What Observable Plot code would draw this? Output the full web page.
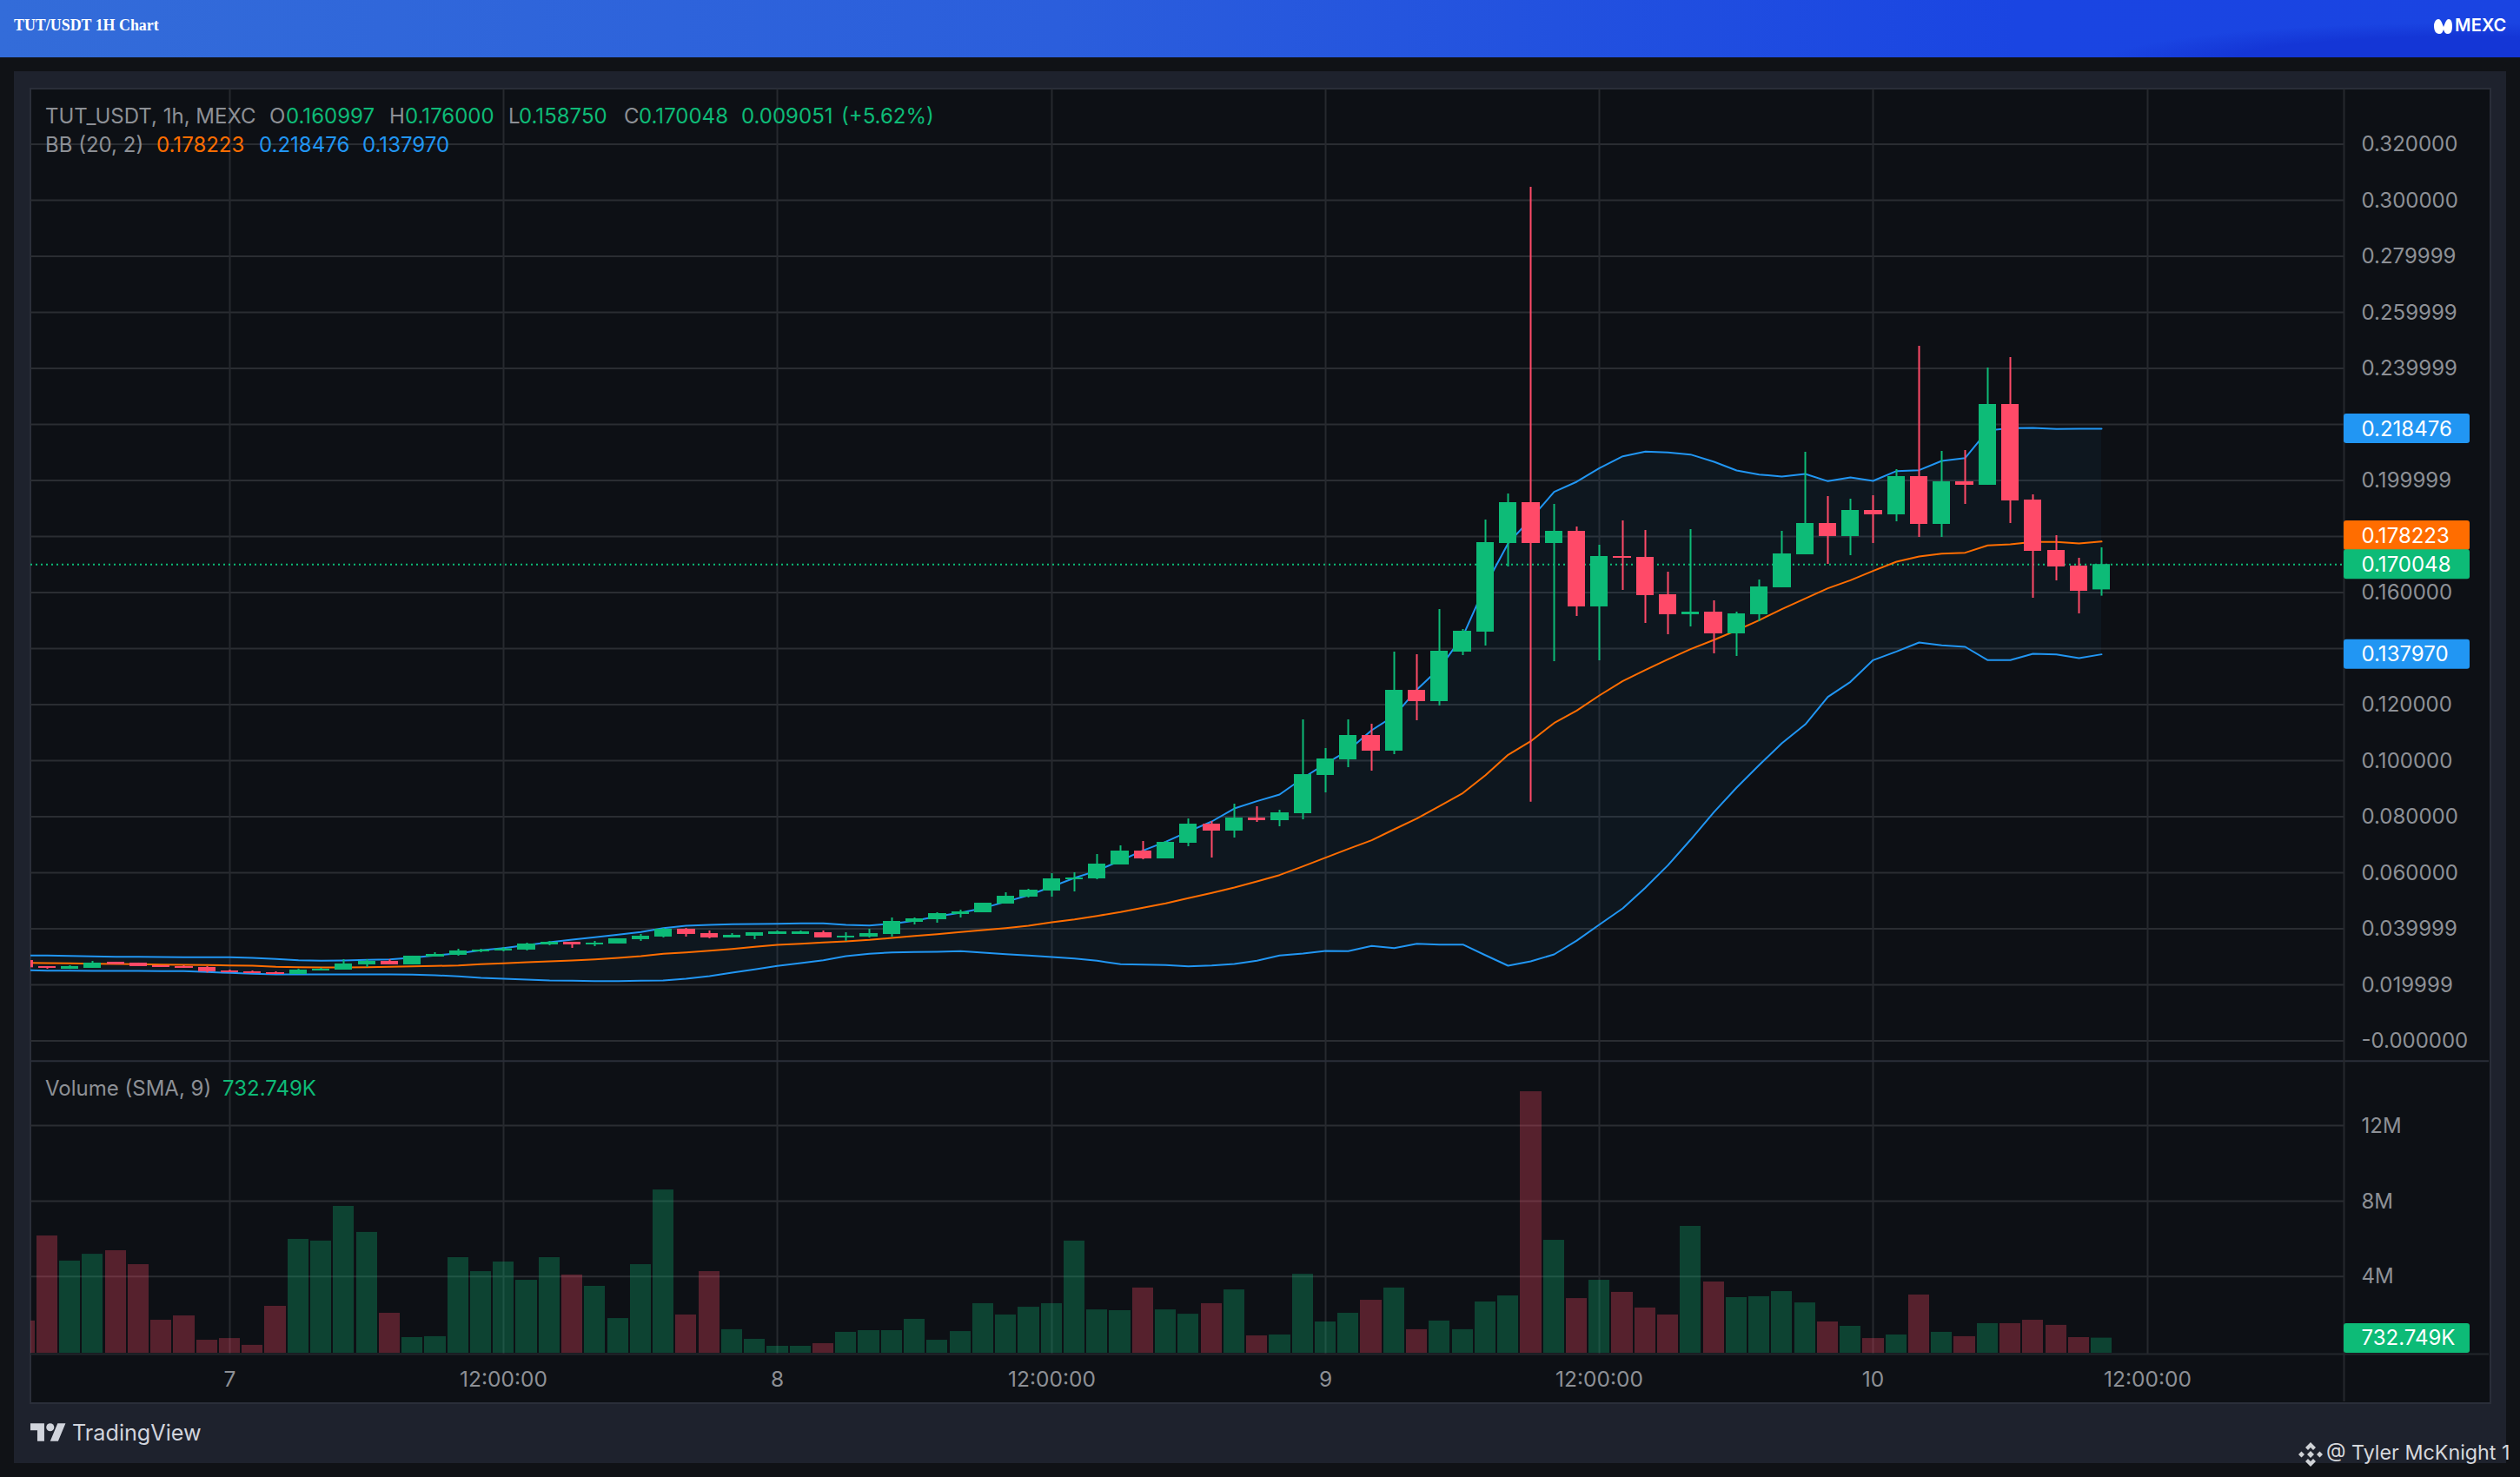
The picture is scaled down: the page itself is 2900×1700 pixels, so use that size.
<!DOCTYPE html>
<html><head><meta charset="utf-8">
<script src="https://cdn.jsdelivr.net/npm/d3@7"></script>
<script src="https://cdn.jsdelivr.net/npm/@observablehq/plot@0.6"></script>
<style>
html,body{margin:0;padding:0;background:#101216;}
#page{position:relative;width:2900px;height:1700px;overflow:hidden;background:#101216;font-family:Inter,sans-serif;}
#header{position:absolute;left:0;top:0;width:2900px;height:66px;background:radial-gradient(ellipse 420px 46px at 2840px 72px,#1436d6 0 65%,transparent 100%),linear-gradient(90deg,#336cd9 0%,#2b5edc 42%,#1a45e2 80%,#1a44e2 100%);}
#title{position:absolute;left:16px;top:19px;font:bold 17.9px "Liberation Serif",serif;color:#fff;}
#mexc{position:absolute;left:2825px;top:17px;font:600 20px Inter,sans-serif;color:#fff;letter-spacing:.2px;}
#panel{position:absolute;left:16px;top:82px;width:2868px;height:1602px;background:#1e222d;}
#frame{position:absolute;left:34px;top:101px;width:2829px;height:1511px;border:2px solid #2a2e39;background:#0d1015;}
.chart{position:absolute;left:35px;}
.t{position:absolute;white-space:pre;font-size:24px;line-height:30px;color:#8d9096;}
.g{color:#0ebb77}.o{color:#ff6d00}.b{color:#2196f3}
</style></head>
<body><div id="page">
<div id="header"><div id="title">TUT/USDT 1H Chart</div>
<svg style="position:absolute;left:2801px;top:22px" width="21" height="17" viewBox="0 0 21 17"><path fill="#fff" d="M5 0c2 0 3 2 4 4l2 5 2-5c1-2 2-4 4-4 3 0 4 4 4 8 0 5-1 9-5 9-3 0-4-2-5-5-1 3-2 5-5 5-4 0-6-4-6-9C0 4 2 0 5 0z"/></svg>
<div id="mexc">MEXC</div></div>
<div id="panel"></div><div id="frame"></div>
<div id="price" class="chart" style="top:102px"></div>
<div id="volume" class="chart" style="top:1220px"></div>
<div class="t" style="left:52px;top:119px">TUT_USDT, 1h, MEXC</div>
<div class="t" style="left:310px;top:119px">O</div><div class="t g" style="left:329px;top:119px">0.160997</div>
<div class="t" style="left:448px;top:119px">H</div><div class="t g" style="left:466px;top:119px">0.176000</div>
<div class="t" style="left:585px;top:119px">L</div><div class="t g" style="left:597px;top:119px">0.158750</div>
<div class="t" style="left:718px;top:119px">C</div><div class="t g" style="left:735px;top:119px">0.170048</div>
<div class="t g" style="left:853px;top:119px">0.009051</div><div class="t g" style="left:968px;top:119px">(+5.62%)</div>
<div class="t" style="left:52px;top:152px">BB (20, 2)</div>
<div class="t o" style="left:180px;top:152px">0.178223</div><div class="t b" style="left:298px;top:152px">0.218476</div><div class="t b" style="left:417px;top:152px">0.137970</div>
<div class="t" style="left:52px;top:1238px">Volume (SMA, 9)</div><div class="t g" style="left:256px;top:1238px">732.749K</div>
<svg style="position:absolute;left:35px;top:1638px" width="41" height="21" viewBox="0 0 36 18"><path fill="#d1d4dc" d="M14 18H7V7H0V0h14v18zM28 18h-8l7.5-18h8L28 18z"/><circle cx="20" cy="4" r="4" fill="#d1d4dc"/></svg>
<div class="t" style="left:83px;top:1634px;font-size:25.2px;color:#d1d4dc">TradingView</div>
<svg style="position:absolute;left:2645px;top:1660px" width="28" height="28" viewBox="0 0 28 28"><path fill="#cfd2d6" d="M14 0L20 6L17 9L14 6L11 9L8 6ZM14 28L20 22L17 19L14 22L11 19L8 22ZM0 14L3.5 10.5L7 14L3.5 17.5ZM21 14L24.5 10.5L28 14L24.5 17.5ZM14 10L18 14L14 18L10 14Z"/></svg>
<div class="t" style="left:2677px;top:1657px;font-size:23.3px;color:#d6d8dc">@ Tyler McKnight 1</div>
</div>
<script>
// Hours relative to 00:00 on the 7th; one candle per hour
const hours = d3.range(-9, 83);
const opens = [.02872,.02655,.02561,.02593,.02810,.02779,.02686,.02655,.02624,.02499,.02469,.02437,.02375,.02499,.02530,.02717,.02841,.02717,.02996,.03058,
.03182,.03213,.03244,.03430,.03523,.03430,.03461,.03616,.03709,.03988,.03833,.03678,.03740,.03802,.03802,.03864,.03678,.03709,.03801,
.04235,.04328,.04514,.04576,.04886,.05135,.05351,.05755,.05786,.06282,.06778,.06499,.07057,.07739,.07491,.07956,.07863,.08111,.09476,.10034,.10902,.10344,.12514,.12111,.13879,.14592,.17755,.19212,
.17755,.18189,.15492,.17290,.17259,.15926,.15213,.15305,.14530,.15213,.16174,.17352,.18468,.18003,.18933,.18778,.20143,.18437,.19957,.19833,.22716,.19305,.17507,.16949,.160997];
const highs = [.02872,.02655,.02686,.02841,.02810,.02779,.02686,.02686,.02655,.02530,.02499,.02469,.02561,.02593,.02903,.02903,.02903,.03027,.03151,.03275,
.03275,.03337,.03492,.03554,.03523,.03554,.03647,.03802,.04019,.04019,.03926,.03833,.03864,.03926,.03926,.03926,.03864,.03988,.04391,
.04390,.04576,.04669,.04917,.05289,.05413,.05972,.06003,.06654,.06964,.07119,.07119,.07925,.07832,.08452,.08359,.08235,.11460,.10437,.11460,.11305,.13879,.13786,.15398,.14685,.18592,.19523,.3047,
.19150,.18344,.17693,.18561,.18220,.16732,.18251,.15709,.15305,.16453,.18189,.21011,.19430,.19336,.19461,.20391,.24794,.21042,.21073,.24019,.24391,.19491,.18034,.17228,.176];
const lows = [.02613,.02561,.02556,.02593,.02727,.02655,.02624,.02593,.02427,.02437,.02407,.02375,.02375,.02499,.02530,.02624,.02717,.02717,.02996,.03027,
.03151,.03182,.03213,.03399,.03306,.03368,.03461,.03554,.03678,.03709,.03647,.03678,.03616,.03802,.03802,.03678,.03554,.03678,.03709,
.04142,.04204,.04390,.04576,.04886,.05104,.05135,.05320,.05755,.06282,.06468,.06499,.06933,.06530,.07243,.07801,.07646,.07894,.08855,.09755,.09631,.10220,.11429,.11956,.13755,.14096,.16918,.0852,
.13538,.15150,.13569,.16081,.14902,.14499,.14778,.13817,.13724,.14965,.16174,.17352,.17011,.17321,.17755,.18530,.17972,.17972,.19150,.19833,.18468,.15801,.16422,.15243,.15875];
const closes = [.02613,.02593,.02655,.02779,.02727,.02655,.02624,.02593,.02469,.02437,.02407,.02375,.02530,.02561,.02748,.02841,.02717,.03027,.03089,.03213,
.03244,.03285,.03461,.03523,.03430,.03492,.03647,.03740,.03988,.03802,.03678,.03771,.03864,.03895,.03895,.03678,.03740,.03833,.04266,
.04359,.04545,.04607,.04917,.05165,.05382,.05786,.05817,.06313,.06778,.06499,.07088,.07739,.07491,.07956,.07863,.08142,.09506,.10065,.10902,.10344,.12514,.12111,.13910,.14623,.17786,.19212,.17755,
.18189,.15492,.17290,.17228,.15895,.15213,.15305,.14530,.15243,.16205,.17383,.18468,.18003,.18933,.18778,.20143,.18437,.19957,.19833,.22716,.19274,.17476,.16918,.16050,.170048];
const upper = [.03047,.03047,.03037,.03016,.03006,.03006,.02996,.02985,.02985,.02985,.02965,.02923,.02882,.02861,.02872,.02892,.02913,.02975,.03047,.03130,
.03233,.03316,.03419,.03523,.03616,.03698,.03791,.03884,.04029,.04112,.04143,.04163,.04174,.04184,.04194,.04194,.04143,.04122,.04184,
.04287,.04442,.04576,.04742,.04969,.05197,.05507,.05817,.06075,.06437,.06799,.07109,.07470,.07832,.08297,.08556,.08793,.09383,.09899,.10364,.11088,.11605,.12535,.13300,.14448,.16256,.17755,.18634,
.19595,.19957,.20442,.20866,.21032,.21001,.20928,.20670,.20360,.20215,.20143,.20236,.19977,.20112,.19988,.20339,.20370,.20701,.20804,.21786,.21869,.21879,.21838,.21848,.218476];
const middle = [.02789,.02779,.02768,.02758,.02748,.02737,.02727,.02717,.02706,.02696,.02686,.02644,.02634,.02624,.02624,.02634,.02644,.02665,.02675,.02696,
.02737,.02768,.02809,.02840,.02871,.02913,.02965,.03027,.03109,.03161,.03223,.03285,.03357,.03430,.03471,.03512,.03554,.03605,.03678,
.03749,.03811,.03884,.03956,.04029,.04111,.04235,.04339,.04463,.04597,.04752,.04907,.05093,.05279,.05476,.05692,.05920,.06230,.06540,.06850,.07160,.07553,.07935,.08380,.08845,.09486,.10209,.10695,
.11346,.11791,.12329,.12845,.13239,.13621,.13982,.14313,.14654,.15016,.15409,.15791,.16153,.16442,.16773,.17104,.17290,.17394,.17424,.17683,.17724,.17807,.17807,.17755,.178223];
const lower = [.02531,.02510,.02510,.02500,.02500,.02500,.02489,.02489,.02458,.02427,.02396,.02376,.02376,.02376,.02376,.02376,.02376,.02365,.02345,.02303,
.02251,.02220,.02189,.02158,.02148,.02138,.02138,.02148,.02158,.02220,.02313,.02437,.02551,.02675,.02779,.02882,.03027,.03109,.03161,
.03171,.03181,.03202,.03150,.03098,.03047,.02995,.02943,.02860,.02736,.02727,.02706,.02665,.02696,.02747,.02861,.03047,.03119,.03212,.03202,.03388,.03316,.03471,.03440,.03440,.03057,.02685,.02840,
.03088,.0358,.0415,.0473,.0547,.0627,.0718,.0817,.0904,.09848,.10623,.11295,.12277,.12815,.13590,.13900,.14220,.14117,.14065,.13590,.13590,.13817,.13796,.13662,.13797];
const volumes = [1.64,6.15,4.82,5.18,5.37,4.63,1.68,1.91,.62,.71,.35,2.42,5.97,5.88,7.72,6.34,2.05,.76,.81,5.00,4.26,4.77,3.80,5.00,4.08,3.48,1.77,4.63,8.59,1.96,4.26,1.18,.67,.30,.30,.44,1.04,1.13,
1.13,1.73,.62,1.08,2.56,1.96,2.37,2.56,5.88,2.23,2.19,3.39,2.23,2.00,2.56,3.29,.85,.90,4.12,1.59,2.05,2.74,3.39,1.18,1.64,1.18,2.65,2.97,13.80,5.92,2.83,3.80,3.16,2.33,1.96,6.66,
3.71,2.88,2.93,3.20,2.60,1.59,1.36,.71,.90,3.02,1.04,.81,1.50,1.50,1.68,1.41,.76,.732749];

const priceTicks = [.32,.30,.28,.26,.24,.22,.20,.18,.16,.14,.12,.10,.08,.06,.04,.02,0];
const priceLabelValues = [.32,.30,.28,.26,.24,.20,.16,.12,.10,.08,.06,.04,.02,0];
const priceLabels = ["0.320000","0.300000","0.279999","0.259999","0.239999","0.199999","0.160000","0.120000","0.100000","0.080000","0.060000","0.039999","0.019999","-0.000000"];
const timeTicks = [0,12,24,36,48,60,72,84];
const timeLabels = ["7","12:00:00","8","12:00:00","9","12:00:00","10","12:00:00"];
const volumeTicks = [4,8,12];
const volumeLabels = ["4M","8M","12M"];
const lastPrice = 0.170048;
const tagValues = [.218476,.18034,.170048,.137970];
const tagLabels = ["0.218476","0.178223","0.170048","0.137970"];
const tagColors = ["#2196f3","#ff6d00","#0dbb77","#2196f3"];

const green = "#0dbb77", red = "#ff4a68", grid = "#2a2d32", vgrid = "#26292e", tickText = "#8d9096";
const rows = hours.map((h,i)=>({h,o:opens[i],hi:highs[i],lo:lows[i],c:closes[i],u:upper[i],m:middle[i],l:lower[i],v:volumes[i],col:closes[i]>=opens[i]?green:red}));

// x: pixel-aligned hour scale shared by both panes; the price axis sits right of axisEdge
const xDomain = [-8.717, 98.97], axisEdge = 92.61, labelX = 93.38, tagEnd = 98.13;
const W = 2829, candleHalf = 0.385, barHalf = 0.46;
const xOpt = {type:"linear",domain:xDomain,range:[0,W],round:true,axis:null};
const font = {fontFamily:"Inter,sans-serif",background:"transparent",overflow:"hidden",display:"block"};

const yMin = -0.00695, yMax = 0.33972;
const price = Plot.plot({
  width:W,height:1118,margin:0,style:font,x:xOpt,
  y:{domain:[yMin,yMax],range:[1118,0],axis:null},
  color:{type:"identity"},
  marks:[
    Plot.ruleY(priceTicks,{x1:xDomain[0],x2:axisEdge,y:d=>d,stroke:grid,strokeWidth:2}),
    Plot.ruleX(timeTicks,{x:d=>d,y1:yMin,y2:yMax,stroke:vgrid,strokeWidth:2}),
    Plot.ruleX([axisEdge],{x:d=>d,y1:yMin,y2:yMax,stroke:vgrid,strokeWidth:2}),
    Plot.areaY(rows,{x:"h",y1:"l",y2:"u",fill:"#2196f3",fillOpacity:.05,curve:"linear",clip:true}),
    Plot.ruleY([lastPrice],{x1:xDomain[0],x2:axisEdge,y:d=>d,stroke:green,strokeWidth:2,strokeDasharray:"2 4"}),
    Plot.lineY(rows,{x:"h",y:"u",stroke:"#2196f3",strokeWidth:2,curve:"linear",clip:true}),
    Plot.lineY(rows,{x:"h",y:"l",stroke:"#2196f3",strokeWidth:2,curve:"linear",clip:true}),
    Plot.lineY(rows,{x:"h",y:"m",stroke:"#ff6d00",strokeWidth:2,curve:"linear",clip:true}),
    Plot.ruleX(rows,{x:"h",y1:"lo",y2:"hi",stroke:"col",strokeWidth:2,clip:true}),
    Plot.rect(rows,{x1:d=>d.h-candleHalf,x2:d=>d.h+candleHalf,y1:d=>Math.min(d.o,d.c),y2:d=>Math.max(d.o,d.c),fill:"col",clip:true}),
    Plot.text(priceLabels,{x:()=>labelX,y:(d,i)=>priceLabelValues[i],text:d=>d,textAnchor:"start",fill:tickText,fontSize:24,dy:0.5}),
    Plot.rect(tagValues,{x1:()=>axisEdge,x2:()=>tagEnd,y1:d=>d-0.00527,y2:d=>d+0.00527,fill:(d,i)=>tagColors[i],rx:3}),
    Plot.text(tagLabels,{x:()=>labelX,y:(d,i)=>tagValues[i],text:d=>d,textAnchor:"start",fill:"#fff",fontSize:24,dy:0.5})
  ]
});
document.getElementById("price").appendChild(price);

const vMax = 15.46, vMin = -2.65, vAxisLine = -0.115, vBase = -0.07;
const volume = Plot.plot({
  width:W,height:393,margin:0,style:font,x:xOpt,
  y:{domain:[vMin,vMax],range:[393,0],axis:null},
  color:{type:"identity"},
  marks:[
    Plot.ruleY(volumeTicks,{x1:xDomain[0],x2:axisEdge,y:d=>d,stroke:grid,strokeWidth:2}),
    Plot.ruleX(timeTicks,{x:d=>d,y1:vAxisLine,y2:vMax,stroke:vgrid,strokeWidth:2}),
    Plot.ruleY([vMax-0.03],{x1:xDomain[0],x2:xDomain[1],y:d=>d,stroke:"#2a2e39",strokeWidth:2}),
    Plot.ruleY([vAxisLine],{x1:xDomain[0],x2:xDomain[1],y:d=>d,stroke:"#23262c",strokeWidth:2}),
    Plot.ruleX([axisEdge],{x:d=>d,y1:vMin,y2:vMax,stroke:vgrid,strokeWidth:2}),
    Plot.rect(rows,{x1:d=>d.h-barHalf,x2:d=>d.h+barHalf,y1:()=>vBase,y2:"v",fill:"col",fillOpacity:.3,clip:true}),
    Plot.text(volumeLabels,{x:()=>labelX,y:(d,i)=>volumeTicks[i],text:d=>d,textAnchor:"start",fill:tickText,fontSize:24,dy:0.5}),
    Plot.rect([0.73],{x1:()=>axisEdge,x2:()=>tagEnd,y1:()=>vBase,y2:()=>1.5,fill:green,rx:3}),
    Plot.text(["732.749K"],{x:()=>labelX,y:()=>0.715,text:d=>d,textAnchor:"start",fill:"#fff",fontSize:24}),
    Plot.text(timeLabels,{x:(d,i)=>timeTicks[i],y:()=>-1.5,text:d=>d,textAnchor:"middle",fill:tickText,fontSize:24.5,fontWeight:(d,i)=>i%2?400:600})
  ]
});
document.getElementById("volume").appendChild(volume);
</script>
</body></html>
